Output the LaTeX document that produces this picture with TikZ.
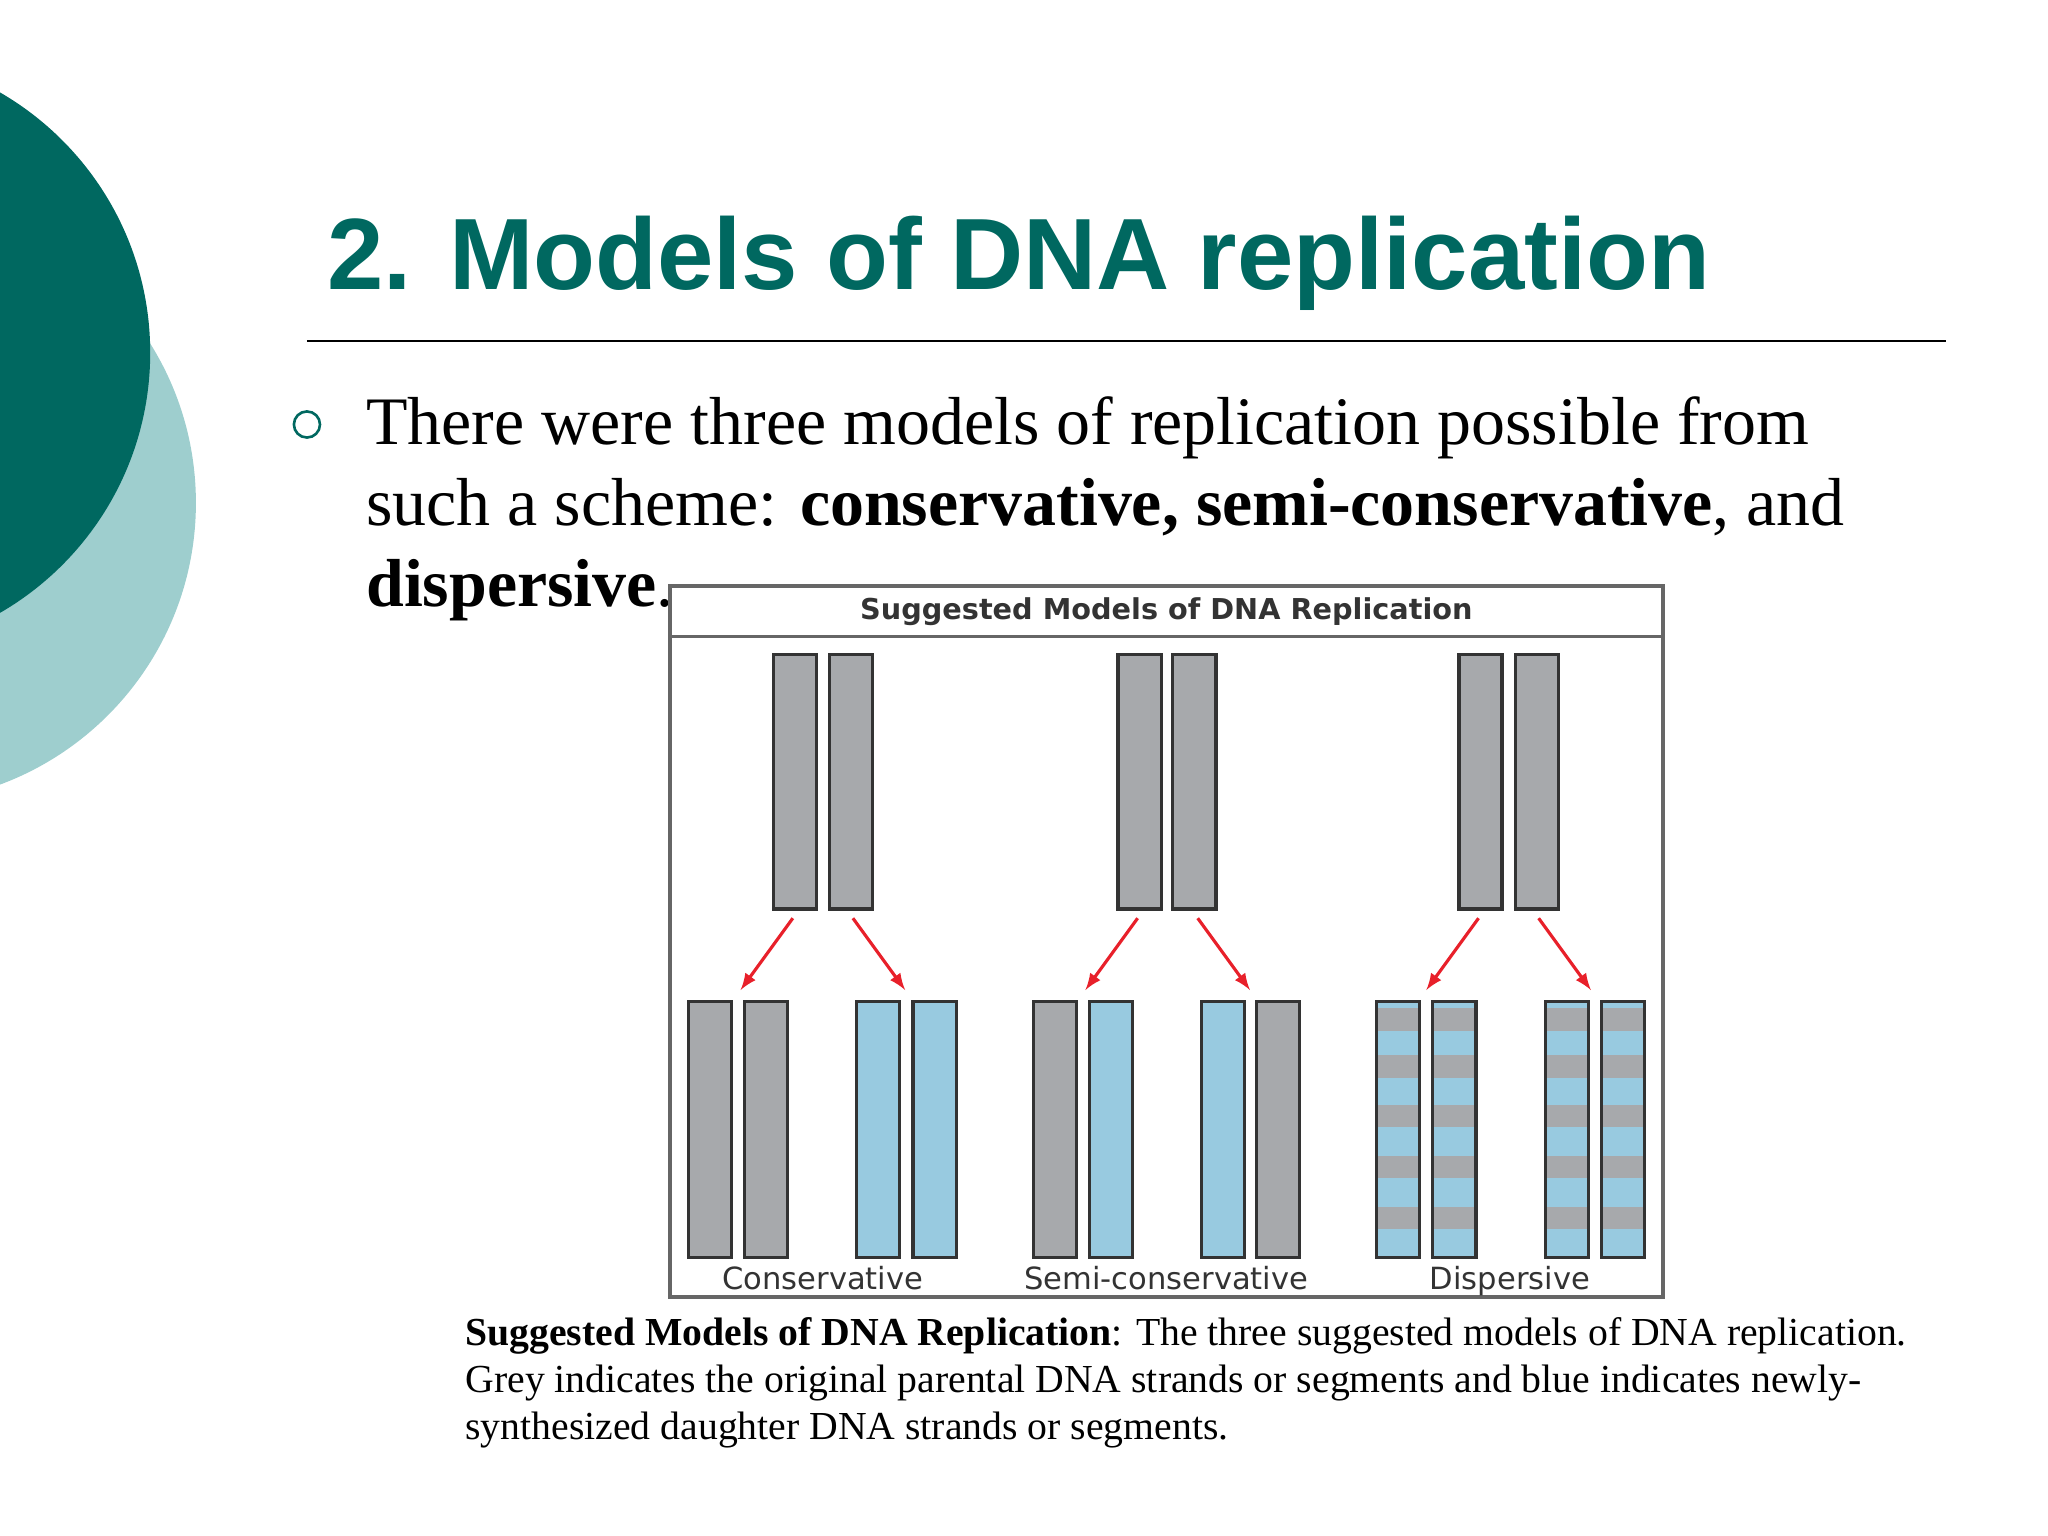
\documentclass[tikz,border=0pt]{standalone}
\usepackage{fontspec}
\setmainfont{Liberation Serif}
\newfontfamily\titlefont{Liberation Sans}
\newfontfamily\diafont{DejaVu Sans}
\definecolor{teal1}{HTML}{006860}
\definecolor{teal2}{HTML}{9ECECE}
\definecolor{gbar}{HTML}{A7A9AC}
\definecolor{bbar}{HTML}{98CAE0}
\definecolor{redar}{HTML}{E8202A}
\begin{document}
\begin{tikzpicture}[x=0.5pt,y=-0.5pt,
 gb/.style={draw=black!80,line width=1.2pt,fill=gbar},
 bb/.style={draw=black!80,line width=1.2pt,fill=bbar},
 ra/.style={draw=redar,line width=1.2pt,-latex},
 lab/.style={anchor=base,font=\diafont\fontsize{11.7}{13}\selectfont,text=black!80}]
\useasboundingbox (0,0) rectangle (1568,1176);
\fill[teal2] (-80,385) circle (230);
\fill[teal1] (-115,270) circle (230);
\node[anchor=base west,inner sep=0,text=teal1,font=\titlefont\bfseries\fontsize{38.8}{44}\selectfont] (title) at (250,222) {2. Models of DNA replication};
\draw[line width=0.8pt] (235,261) -- (1490,261);
\draw[teal1,line width=1pt] (235,325) circle (10);
\begin{scope}[every node/.style={anchor=base west,inner sep=0,font=\fontsize{26}{31}\selectfont}]
\node (l1) at (280,340) {There were three models of replication possible from};
\node (l2) at (280,402) {such a scheme: \textbf{conservative, semi-conservative}, and};
\node (l3) at (280,464) {\textbf{dispersive}.};
\end{scope}
\fill[white] (513,449) rectangle (1273,993);
\draw[black!60,line width=1.5pt] (513,449) rectangle (1273,993);
\draw[black!60,line width=1.2pt] (513,487) -- (1273,487);
\node[lab,font=\diafont\bfseries\fontsize{11}{12}\selectfont] (dt) at (893,474) {Suggested Models of DNA Replication};
% top bars
\foreach \x in {592,635,856,898,1117,1160} \draw[gb] (\x,501) rectangle ++(33,195);
% bottom
\foreach \x in {527,570,791,962} \draw[gb] (\x,767) rectangle ++(33,196);
\foreach \x in {656,699,834,920} \draw[bb] (\x,767) rectangle ++(33,196);
\foreach \x in {1054,1097,1183,1226}{
 \fill[bbar] (\x,767) rectangle ++(33,196);
 \foreach \y in {772,808,846,885,924} \fill[gbar] (\x,\y) rectangle ++(33,17);
 \draw[black!80,line width=1.2pt] (\x,767) rectangle ++(33,196);
}
\foreach \d in {0,264,525}{
 \draw[ra] (607+\d,703) -- (567+\d,758);
 \draw[ra] (653+\d,703) -- (693+\d,758);
}
\node[lab] (c1) at (630,987) {Conservative};
\node[lab] (c2) at (893,987) {Semi-conservative};
\node[lab] (c3) at (1156,987) {Dispersive};
\begin{scope}[every node/.style={anchor=base west,inner sep=0,font=\fontsize{15.2}{18}\selectfont}]
\node (p1) at (356,1030) {\textbf{Suggested Models of DNA Replication}: The three suggested models of DNA replication.};
\node (p2) at (356,1066) {Grey indicates the original parental DNA strands or segments and blue indicates newly-};
\node (p3) at (356,1102) {synthesized daughter DNA strands or segments.};
\end{scope}
\end{tikzpicture}
\end{document}
